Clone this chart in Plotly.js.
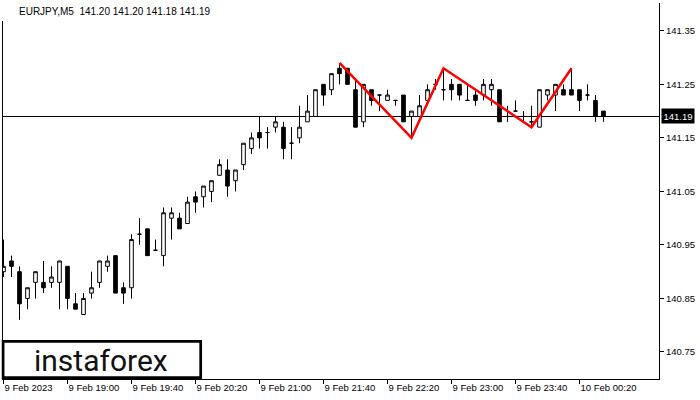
<!DOCTYPE html>
<html>
<head>
<meta charset="utf-8">
<script src="https://cdn.plot.ly/plotly-3.0.1.min.js"></script>
<style>
html,body{margin:0;padding:0;background:#fff;}
#chart{width:700px;height:400px;}
</style>
</head>
<body>
<div id="chart"></div>
<script>
// ---- data (EURJPY, M5) ----
var startTime = '2023-02-09 18:20';
var stepMinutes = 5;

var openP = [140.90,140.92,140.90,140.85,140.88,140.88,140.88,140.88,140.91,140.84,
140.82,140.86,140.88,140.91,140.93,140.87,140.87,140.97,140.98,140.94,
140.93,141.00,141.00,140.99,141.04,141.04,141.05,141.08,141.09,141.07,
141.10,141.13,141.16,141.16,141.17,141.17,141.14,141.15,141.18,141.19,
141.25,141.24,141.28,141.28,141.24,141.18,141.24,141.23,141.22,141.22,
141.23,141.19,141.19,141.22,141.25,141.24,141.25,141.25,141.22,141.23,
141.23,141.24,141.24,141.19,141.20,141.19,141.18,141.17,141.23,141.23,
141.24,141.24,141.24,141.23,141.22,141.20];

var highP = [140.96,140.93,140.91,140.87,140.90,140.92,140.91,140.92,140.91,140.86,
140.86,140.90,140.92,140.93,140.93,140.88,140.97,141.00,140.98,140.96,
141.02,141.02,141.01,141.04,141.05,141.06,141.07,141.11,141.11,141.09,
141.14,141.16,141.19,141.17,141.19,141.18,141.17,141.21,141.23,141.24,
141.25,141.27,141.29,141.28,141.26,141.25,141.24,141.23,141.24,141.22,
141.23,141.20,141.23,141.25,141.26,141.28,141.26,141.25,141.25,141.24,
141.26,141.26,141.24,141.21,141.22,141.20,141.21,141.24,141.24,141.25,
141.25,141.28,141.24,141.25,141.23,141.20];

var lowP = [140.89,140.89,140.81,140.83,140.85,140.86,140.87,140.83,140.83,140.83,
140.82,140.85,140.87,140.90,140.86,140.84,140.85,140.95,140.93,140.94,
140.91,140.96,140.98,140.99,141.01,141.02,141.03,141.08,141.04,141.05,
141.09,141.12,141.13,141.13,141.16,141.11,141.11,141.14,141.18,141.19,
141.21,141.23,141.25,141.25,141.17,141.17,141.21,141.20,141.22,141.21,
141.18,141.15,141.19,141.22,141.24,141.22,141.22,141.22,141.22,141.21,
141.22,141.21,141.18,141.18,141.20,141.18,141.17,141.17,141.22,141.20,
141.23,141.23,141.20,141.22,141.18,141.18];

var closeP = [140.91,140.91,140.84,140.87,140.90,140.87,140.89,140.92,140.85,140.83,
140.85,140.87,140.92,140.92,140.86,140.86,140.96,140.97,140.93,140.94,
141.01,141.01,140.98,141.03,141.03,141.06,141.07,141.10,141.06,141.09,
141.14,141.15,141.15,141.16,141.18,141.13,141.14,141.17,141.20,141.24,
141.23,141.27,141.27,141.25,141.17,141.25,141.22,141.23,141.23,141.22,
141.18,141.20,141.21,141.24,141.25,141.24,141.24,141.23,141.22,141.22,
141.25,141.25,141.18,141.19,141.20,141.19,141.18,141.24,141.24,141.25,
141.23,141.23,141.22,141.23,141.19,141.19];

// triple-top pattern vertices (candle index, price)
var patternIdx = [42, 51, 55, 66, 71];
var patternPrice = [141.29, 141.15, 141.28, 141.17, 141.28];

var currentPrice = 141.19;
var titleText = 'EURJPY,M5\u00a0\u00a0141.20 141.20 141.18 141.19';

var xTickTimes = ['2023-02-09 18:20','2023-02-09 19:00','2023-02-09 19:40','2023-02-09 20:20',
'2023-02-09 21:00','2023-02-09 21:40','2023-02-09 22:20','2023-02-09 23:00',
'2023-02-09 23:40','2023-02-10 00:20'];
var xTickLabels = ['9 Feb 2023','9 Feb 19:00','9 Feb 19:40','9 Feb 20:20','9 Feb 21:00',
'9 Feb 21:40','9 Feb 22:20','9 Feb 23:00','9 Feb 23:40','10 Feb 00:20'];

var yTickVals = [140.75,140.85,140.95,141.05,141.15,141.25,141.35];
var yTickLabels = ['140.75','140.85','140.95','141.05','141.15','141.25','141.35'];

// ---- build times ----
function toMs(s){ var p = s.split(/[- :]/).map(Number); return Date.UTC(p[0],p[1]-1,p[2],p[3],p[4]); }
function fmt(ms){ return new Date(ms).toISOString().slice(0,16).replace('T',' '); }
var baseMs = toMs(startTime);
var stepMs = stepMinutes*60000;
var times = openP.map(function(_,i){ return fmt(baseMs + i*stepMs); });
var patternTimes = patternIdx.map(function(i){ return times[i]; });

// ---- layout geometry ----
var W = 700, H = 400, ml = 2, mr = 41, mt = 3, mb = 21;
var pw = W - ml - mr, ph = H - mt - mb;
function px(x){ return (x - ml)/pw; }
function py(y){ return (H - mb - y)/ph; }

var font = 'Liberation Sans, Arial, sans-serif';

var candles = {
  type: 'candlestick',
  x: times, open: openP, high: highP, low: lowP, close: closeP,
  increasing: {line: {color: '#000', width: 1}, fillcolor: '#ffffff'},
  decreasing: {line: {color: '#000', width: 1}, fillcolor: '#000000'},
  whiskerwidth: 0,
  hoverinfo: 'skip',
  showlegend: false
};

var pattern = {
  type: 'scatter', mode: 'lines',
  x: patternTimes, y: patternPrice,
  line: {color: '#ff0000', width: 2.5},
  hoverinfo: 'skip', showlegend: false
};

var layout = {
  width: W, height: H,
  margin: {l: ml, r: mr, t: mt, b: mb, pad: 0},
  paper_bgcolor: '#ffffff', plot_bgcolor: '#ffffff',
  showlegend: false,
  boxgap: 0.35,
  xaxis: {
    type: 'date',
    range: [baseMs - 0.1875*stepMs, baseMs + 81.9375*stepMs],
    tickvals: xTickTimes, ticktext: xTickLabels,
    ticks: 'outside', ticklen: 4, tickwidth: 1, tickcolor: '#000',
    ticklabelposition: 'outside right',
    showline: true, linecolor: '#000', linewidth: 1,
    showgrid: false, zeroline: false,
    tickfont: {family: font, size: 9.5, color: '#000'},
    rangeslider: {visible: false},
    fixedrange: true
  },
  yaxis: {
    side: 'right',
    range: [140.6995, 141.402],
    tickvals: yTickVals, ticktext: yTickLabels,
    ticks: 'outside', ticklen: 4, tickwidth: 1, tickcolor: '#000',
    showline: true, linecolor: '#000', linewidth: 1,
    showgrid: false, zeroline: false,
    tickfont: {family: font, size: 9.5, color: '#000'},
    fixedrange: true
  },
  shapes: [
    {type: 'line', xref: 'paper', yref: 'y', x0: 0, x1: 1, y0: currentPrice, y1: currentPrice,
     line: {color: '#000', width: 1}, layer: 'below'},
    {type: 'line', xref: 'paper', yref: 'paper', x0: px(2.5), x1: px(2.5), y0: py(21), y1: 0,
     line: {color: '#000', width: 1}},
    {type: 'rect', xref: 'paper', yref: 'paper', x0: px(3.1), x1: px(200.7), y0: py(377.7), y1: py(341.3),
     line: {color: '#000', width: 2.7}, fillcolor: '#ffffff', layer: 'above'}
  ],
  annotations: [
    {xref: 'paper', yref: 'paper', x: px(17), y: py(12), xanchor: 'left', yanchor: 'middle',
     text: titleText, showarrow: false, font: {family: font, size: 10, color: '#000'}},
    {xref: 'paper', yref: 'y', x: px(661), y: currentPrice, xanchor: 'left', yanchor: 'middle',
     text: '141.19', showarrow: false, bgcolor: '#000', borderpad: 1.5,
     font: {family: font, size: 9.5, color: '#fff'}},
    {xref: 'paper', yref: 'paper', x: px(101), y: py(360), xanchor: 'center', yanchor: 'middle',
     text: 'instaforex', showarrow: false, font: {family: 'Roboto, sans-serif', size: 30, color: '#111'}}
  ]
};

Plotly.newPlot('chart', [candles, pattern], layout, {staticPlot: true, displayModeBar: false});
</script>
</body>
</html>
